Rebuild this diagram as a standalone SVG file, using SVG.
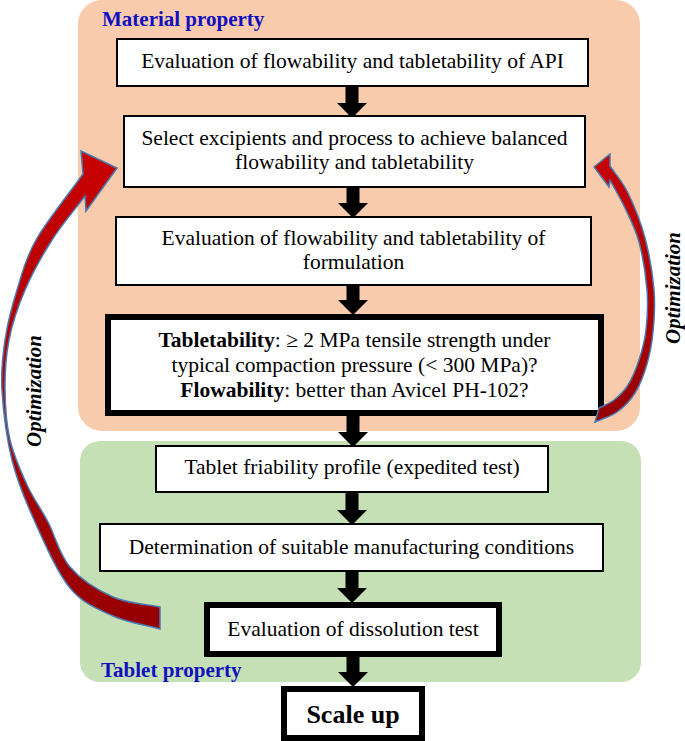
<svg xmlns="http://www.w3.org/2000/svg" width="685" height="741" viewBox="0 0 685 741">
<defs>
<style>
.panel-o{fill:#f8cbad;}
.panel-g{fill:#c5e0b4;}
.box{fill:#ffffff;stroke:#000000;stroke-width:2;}
.tbox{fill:#ffffff;stroke:#000000;stroke-width:6;}
.t{font-family:"Liberation Serif","Times New Roman",serif;font-size:21.5px;fill:#000;text-anchor:middle;}
.big{font-size:26px;font-weight:bold;}
.b{font-weight:bold;}
.lbl{font-family:"Liberation Serif","Times New Roman",serif;font-size:21px;font-weight:bold;fill:#1010c0;}
.opt{font-family:"Liberation Serif","Times New Roman",serif;font-size:21px;font-weight:bold;font-style:italic;fill:#000;text-anchor:middle;}
.arr{fill:#000000;}
.red{fill:url(#redgrad);stroke:#4a7ab0;stroke-width:1.5;stroke-linejoin:miter;}
</style>
<linearGradient id="redgrad" x1="0" y1="0" x2="0" y2="1">
<stop offset="0" stop-color="#c80000"/>
<stop offset="1" stop-color="#960000"/>
</linearGradient>
</defs>

<g id="panel-material">
<rect class="panel-o" x="78" y="0" width="562" height="431" rx="24" ry="24"/>
<text class="lbl" x="102" y="26">Material property</text>
</g>
<g id="panel-tablet">
<rect class="panel-g" x="80" y="441" width="561" height="241" rx="20" ry="20"/>
<text class="lbl" x="101" y="677">Tablet property</text>
</g>

<g id="connectors">
<path class="arr" d="M345.5,86 H358.5 V103 H367 L352,118 L337,103 H345.5 Z"/>
<path class="arr" d="M346.5,187 H359.5 V203 H368 L353,218 L338,203 H346.5 Z"/>
<path class="arr" d="M346.5,285 H359.5 V300 H368 L353,315 L338,300 H346.5 Z"/>
<path class="arr" d="M346.5,416 H359.5 V432 H368 L353,447 L338,432 H346.5 Z"/>
<path class="arr" d="M345.5,492 H358.5 V510 H367 L352,525 L337,510 H345.5 Z"/>
<path class="arr" d="M345.5,571 H358.5 V588 H367 L352,603 L337,588 H345.5 Z"/>
<path class="arr" d="M346.5,657 H359.5 V672 H368 L353,687 L338,672 H346.5 Z"/>
</g>

<g id="node-api">
<rect class="box" x="117" y="39" width="471" height="47"/>
<text class="t" x="352.5" y="68">Evaluation of flowability and tabletability of API</text>
</g>
<g id="node-select">
<rect class="box" x="124" y="116" width="461" height="71"/>
<text class="t" x="354.5" y="145">Select excipients and process to achieve balanced</text>
<text class="t" x="354.5" y="169">flowability and tabletability</text>
</g>
<g id="node-formulation">
<rect class="box" x="116" y="217" width="475" height="68"/>
<text class="t" x="353.5" y="245">Evaluation of flowability and tabletability of</text>
<text class="t" x="353.5" y="269">formulation</text>
</g>
<g id="node-criteria">
<rect class="tbox" x="108" y="317" width="493" height="96"/>
<text class="t" x="354.5" y="347"><tspan class="b">Tabletability</tspan>: ≥ 2 MPa tensile strength under</text>
<text class="t" x="354.5" y="372">typical compaction pressure (&lt; 300 MPa)?</text>
<text class="t" x="354.5" y="397"><tspan class="b">Flowability</tspan>: better than Avicel PH-102?</text>
</g>
<g id="node-friability">
<rect class="box" x="156" y="446" width="392" height="46"/>
<text class="t" x="352" y="474">Tablet friability profile (expedited test)</text>
</g>
<g id="node-conditions">
<rect class="box" x="100" y="524" width="503" height="47"/>
<text class="t" x="351.5" y="554">Determination of suitable manufacturing conditions</text>
</g>
<g id="node-dissolution">
<rect class="tbox" x="207" y="605" width="292" height="49"/>
<text class="t" x="353" y="636">Evaluation of dissolution test</text>
</g>
<g id="node-scaleup">
<rect class="tbox" x="284" y="689" width="138" height="49"/>
<text class="t big" x="353" y="723">Scale up</text>
</g>

<g id="optimization-left">
<path class="red" d="M117,168 L86,211 L85,196 C74,210.7 62,224.3 52,240 C42,255.7 32.2,273.3 25,290 C17.8,306.7 12.3,323.3 9,340 C5.7,356.7 4.8,373.3 5,390 C5.2,406.7 6.3,424.2 10,440 C13.7,455.8 20.7,471.3 27,485 C33.3,498.7 40.8,508.3 48,522 C55.2,535.7 59.2,554.5 70,567 C80.8,579.5 98,590.3 113,597 C128,603.7 144.3,603.7 160,607 L160,629 C144.3,624.7 128,622.8 113,616 C98,609.2 83,603.7 70,588 C57,572.3 44.7,543.3 35,522 C25.3,500.7 17.5,482 12,460 C6.5,438 3.2,410 2,390 C0.8,370 2.5,356.7 5,340 C7.5,323.3 11.8,306.7 17,290 C22.2,273.3 25,259.3 36,240 C47,220.7 67.3,196 83,174 L81,151 Z"/>
<text class="opt" transform="translate(41,391) rotate(-90)">Optimization</text>
</g>
<g id="optimization-right">
<path class="red" d="M594,167 L610,154 L610,166 C616,175 622.2,181 628,193 C633.8,205 640.7,221.8 645,238 C649.3,254.2 652.7,274.3 654,290 C655.3,305.7 654.2,319.7 653,332 C651.8,344.3 650,353.8 647,364 C644,374.2 640,385 635,393 C630,401 623.7,407.2 617,412 C610.3,416.8 602.3,418.7 595,422 L599,408 C604,405.3 609.2,403.8 614,400 C618.8,396.2 623.8,391.7 628,385 C632.2,378.3 636,369.2 639,360 C642,350.8 644.7,341.7 646,330 C647.3,318.3 648.2,304.7 647,290 C645.8,275.3 642.7,255.7 639,242 C635.3,228.3 629.8,218.3 625,208 C620.2,197.7 615,189.3 610,180 L609,187 Z"/>
<text class="opt" transform="translate(680,288) rotate(-90)">Optimization</text>
</g>
</svg>
